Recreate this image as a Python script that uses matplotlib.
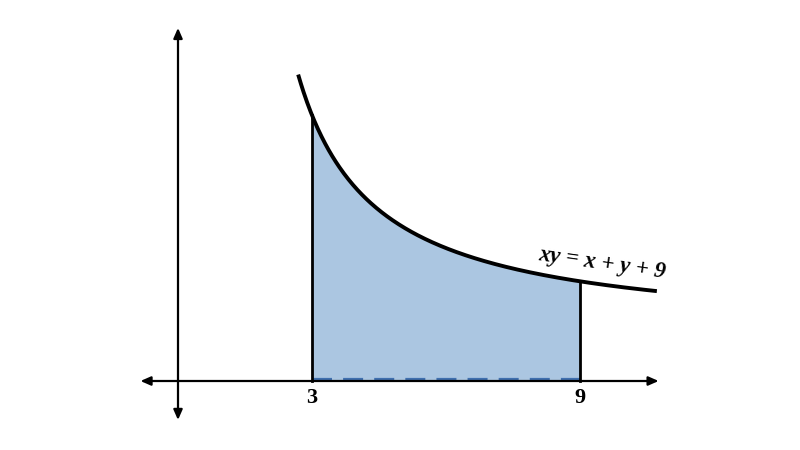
import numpy as np
import matplotlib
matplotlib.use("Agg")
import matplotlib.pyplot as plt

# Data
x_lower, x_upper = 3, 9
tick_labels = ["3", "9"]
curve_x_start, curve_x_end = 2.69, 10.72
label_text = "xy = x + y + 9"

def f(x):
    return (x + 9) / (x - 1)

fig = plt.figure(figsize=(8, 4.5), dpi=100)
ax = fig.add_axes([0, 0, 1, 1])
ax.set_xlim(-178 / 44.67, 622 / 44.67)
ax.set_ylim(-(450 - 381) / 44.3, 381 / 44.3)
ax.axis("off")

# Fill region
xf = np.linspace(x_lower, x_upper, 300)
ax.fill_between(xf, 0, f(xf), color="#abc6e1", zorder=1, linewidth=0)
# Dashed base
ax.plot([x_lower, x_upper], [0.045, 0.045], color="#3f6fae", lw=1.6, dashes=(9, 5), zorder=2)
# Vertical boundaries
ax.plot([x_lower, x_lower], [0, f(x_lower)], color="black", lw=2, zorder=3)
ax.plot([x_upper, x_upper], [0, f(x_upper)], color="black", lw=2, zorder=3)

# Axes arrows
arrow = dict(arrowstyle="<|-|>,head_length=0.5,head_width=0.22", color="black", lw=1.6,
             shrinkA=0, shrinkB=0, mutation_scale=12)
ax.annotate("", xy=(-0.84, 0), xytext=(10.76, 0), arrowprops=arrow, zorder=4)
ax.annotate("", xy=(0, -0.88), xytext=(0, 7.97), arrowprops=arrow, zorder=4)

# Curve
xc = np.linspace(curve_x_start, curve_x_end, 400)
ax.plot(xc, f(xc), color="black", lw=2.8, zorder=5, solid_capstyle="butt")

# Tick labels
for xv, t in zip([x_lower, x_upper], tick_labels):
    ax.text(xv, -0.15, t, ha="center", va="top", fontsize=16, family="Liberation Serif",
            weight="bold")

# Curve label
ax.text(9.5, 2.66, label_text, ha="center", va="center", fontsize=16.5, rotation=-8,
        family="Liberation Serif", style="italic", weight="bold")

fig.savefig("out.png", dpi=100)
